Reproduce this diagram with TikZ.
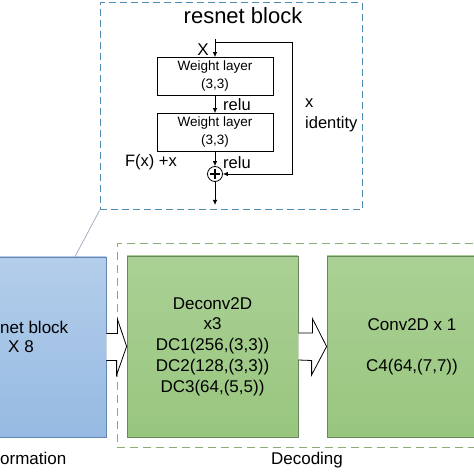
\documentclass[tikz,border=0pt]{standalone}
\usepackage{fontspec}
\setmainfont{Liberation Sans}
\usetikzlibrary{arrows.meta}
\definecolor{blkfill}{RGB}{150,186,226}
\definecolor{blkline}{RGB}{100,132,178}
\definecolor{grnfill}{RGB}{152,198,126}
\definecolor{grnline}{RGB}{104,136,92}
\definecolor{decdash}{RGB}{140,172,118}
\definecolor{resdash}{RGB}{80,140,178}
\definecolor{zoomline}{RGB}{165,175,195}

\begin{document}
\begin{tikzpicture}[x=1pt,y=1pt,
  wbox/.style={draw, line width=0.8, minimum width=116, minimum height=38, align=center, font=\fontsize{13.5}{18}\selectfont},
  arr/.style={line width=0.8, -{Latex[length=5pt,width=4.5pt]}},
  lbl/.style={inner sep=0, font=\fontsize{16.5}{21}\selectfont},
  big/.style={inner sep=0, align=center, font=\fontsize{17}{20.75}\selectfont},
  gbox/.style={draw=grnline, line width=0.8, top color=grnfill!82!white, bottom color=grnfill},
  harrow/.style={draw, line width=0.8, fill=white, line join=miter}]
\clip (0,0) rectangle (474,474);

% resnet block (zoomed view)
\node[draw=resdash, line width=1, dash pattern=on 7pt off 4pt, minimum width=262, minimum height=207] (rbox) at (231,367.5) {};
\node[inner sep=0, font=\fontsize{22}{26}\selectfont] (ttl) at (243,458) {resnet block};
\coordinate (xin) at (215,435);
\coordinate (xout) at (215,269);
\node[wbox] (w1) at (215,397.5) {Weight layer\\(3,3)};
\node[wbox] (w2) at (215,341.5) {Weight layer\\(3,3)};
\node[circle, draw, line width=0.8, minimum size=15, inner sep=0] (sum) at (215,300) {};
\draw[line width=1.6] ([xshift=-5]sum.center) -- ([xshift=5]sum.center);
\draw[line width=1.6] ([yshift=-5]sum.center) -- ([yshift=5]sum.center);

\draw[arr] (xin) -- (w1);
\draw[arr] (w1) -- (w2);
\draw[arr] (w2) -- (sum);
\draw[arr] (sum) -- (xout);
\draw[arr] ([yshift=-3]xin) -- ++(77,0) |- (sum);

\node[lbl, font=\fontsize{17}{21}\selectfont] (xlab) at (203,424) {X};
\node[lbl, anchor=west] (relua) at (223,369) {relu};
\node[lbl, anchor=west] (relub) at (223,311) {relu};
\node[lbl] (fx) at (151,312) {F(x) +x};
\node[lbl, anchor=west, align=left] (idlab) at (305,358.5) {x\\identity};

% encoder / decoder row
\node[draw=blkline, line width=0.8, top color=blkfill!72!white, bottom color=blkfill, minimum width=166, minimum height=180] (blk) at (23,127) {};
\node[big, anchor=west] (blkname) at (0,147) {net block};
\node[big] (blkrep) at (21,127) {X 8};
\node[big, anchor=west] (trlab) at (0,16) {ormation};

\node[draw=decdash, line width=1, dash pattern=on 8pt off 5pt, minimum width=388, minimum height=204] (decbox) at (311,128) {};
\node[big] (declab) at (307,14) {Decoding};

\node[gbox, big, minimum width=171, minimum height=181] (dec) at (212.5,127.5)
  {Deconv2D\\x3\\DC1(256,(3,3))\\DC2(128,(3,3))\\DC3(64,(5,5))};
\node[gbox, big, minimum width=170, minimum height=181] (conv) at (412,127.5)
  {Conv2D x 1\\[20.25pt]C4(64,(7,7))};

% hollow arrows
\draw[harrow] ([yshift=13.5]blk.east) -- ++(11,0) -- ++(0,14.5) -- (dec.west)
  -- ++(-10,-28.5) -- ++(0,14.5) -- ([yshift=-13.5]blk.east);
\draw[harrow] ([yshift=13.5]dec.east) -- ++(14,0) -- ++(0,14.5) -- (conv.west)
  -- ++(-15,-28.5) -- ++(0,14.5) -- ([yshift=-13.5]dec.east);

% zoom line
\draw[zoomline, line width=0.8] ([xshift=52]blk.north) -- (rbox.south west);
\end{tikzpicture}
\end{document}
